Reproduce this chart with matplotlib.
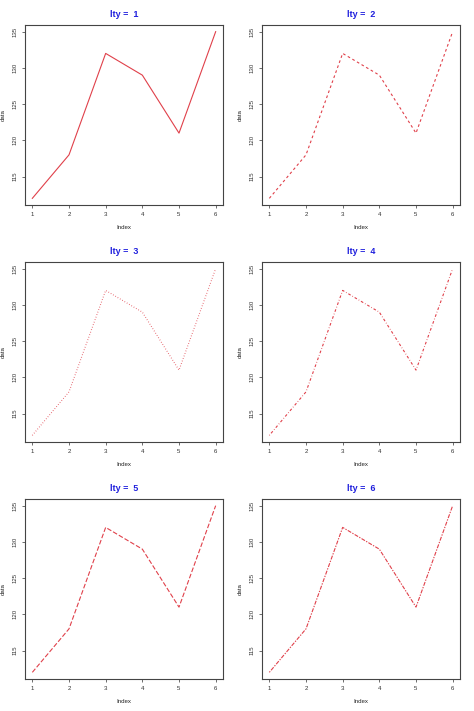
import numpy as np
import matplotlib
matplotlib.use('Agg')
import matplotlib.pyplot as plt

# first six values of the series, plotted against their index
data = [112, 118, 132, 129, 121, 135]
index = [1, 2, 3, 4, 5, 6]
ltys = [1, 2, 3, 4, 5, 6]
y_ticks = [115, 120, 125, 130, 135]

# R line types translated to matplotlib dash patterns (on, off in points)
dash_map = {
    1: '-',
    2: (0, (2.4, 2.4)),
    3: (0, (0.6, 1.8)),
    4: (0, (0.6, 1.8, 2.4, 1.8)),
    5: (0, (4.2, 1.8)),
    6: (0, (1.2, 1.2, 3.6, 1.2)),
}

plt.rcParams['font.family'] = ['Liberation Sans', 'DejaVu Sans']

W, H = 474, 711
fig = plt.figure(figsize=(W / 100, H / 100), dpi=100)

col_left = [25, 262]
row_top = [25, 262, 499]
box_w, box_h = 198, 180

for i, lty in enumerate(ltys):
    r, c = divmod(i, 2)
    left = col_left[c] / W
    bottom = 1 - (row_top[r] + box_h) / H
    ax = fig.add_axes([left, bottom, box_w / W, box_h / H])
    ax.plot(index, data, color='#e0404a', linewidth=0.8, linestyle=dash_map[lty])

    pad_x = (max(index) - min(index)) * 0.04
    pad_y = (max(data) - min(data)) * 0.04
    ax.set_xlim(min(index) - pad_x, max(index) + pad_x)
    ax.set_ylim(min(data) - pad_y, max(data) + pad_y)
    ax.set_xticks(index)
    ax.set_yticks(y_ticks)
    ax.tick_params(labelsize=4.4, length=2.5, width=0.5, pad=2.5, colors='#333333')
    for lbl in ax.get_yticklabels():
        lbl.set_rotation(90)
        lbl.set_va('center')
    for s in ax.spines.values():
        s.set_linewidth(0.8)
        s.set_color('#444444')
    ax.set_xlabel('Index', fontsize=4.4, labelpad=6, color='#222222')
    ax.set_ylabel('data', fontsize=4.4, labelpad=5, color='#222222')
    ax.set_title('lty =  %d' % lty, fontsize=6.5, fontweight='bold', color='#2020dd', pad=6)

fig.savefig('out.png', dpi=100, facecolor='white')
